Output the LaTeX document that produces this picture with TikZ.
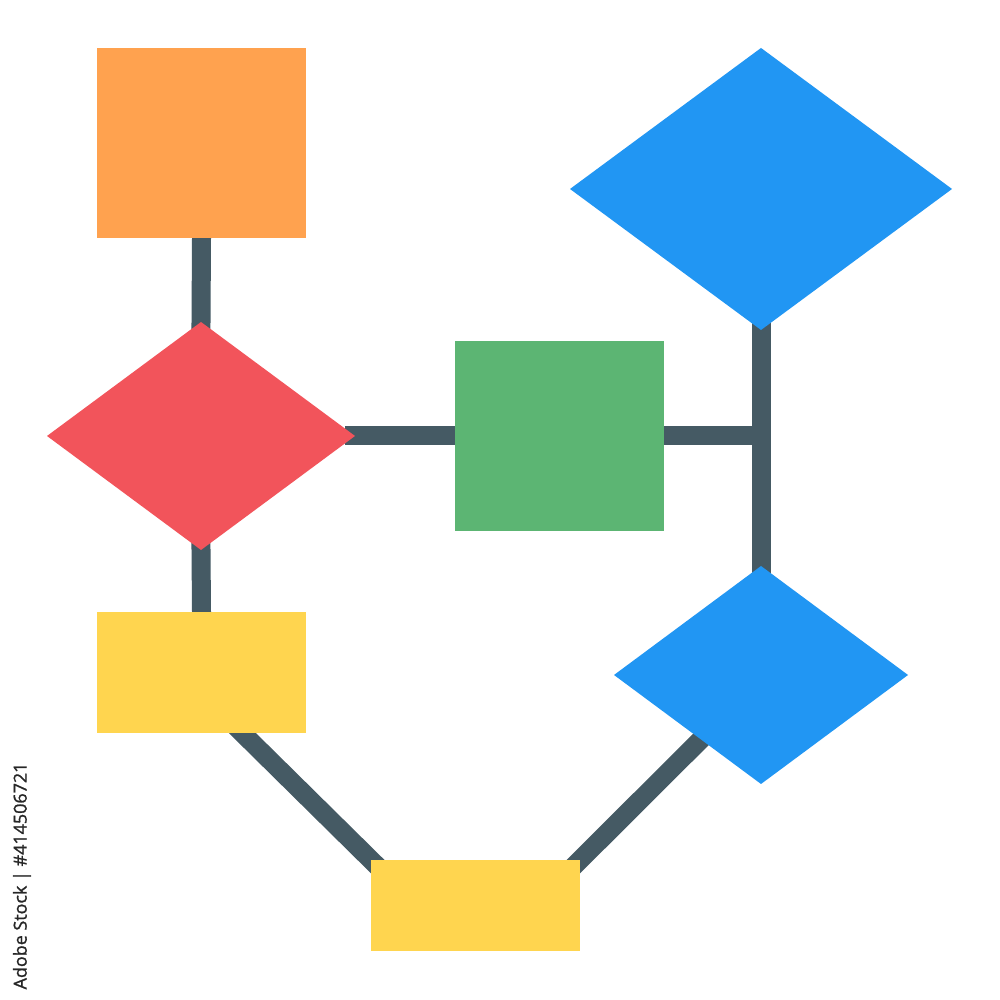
\documentclass[tikz,border=0pt]{standalone}
\usepackage{fontspec}
\newfontfamily\stockfont[FakeBold=1.2]{Open Sans}
\usetikzlibrary{shapes.geometric,backgrounds}

\definecolor{boxorange}{HTML}{FFA24F}
\definecolor{boxred}{HTML}{F2545B}
\definecolor{boxgreen}{HTML}{5CB573}
\definecolor{boxblue}{HTML}{2196F3}
\definecolor{boxyellow}{HTML}{FFD54F}
\definecolor{linkgray}{HTML}{455A64}

\begin{document}
\begin{tikzpicture}[
        block/.style={rectangle,fill=#1,inner sep=0pt,outer sep=0pt},
        choice/.style={diamond,fill=#1,inner sep=0pt,outer sep=0pt},
        link/.style={draw=linkgray,line width=0.19cm,shorten <=-0.1cm,shorten >=-0.1cm}
    ]
        \useasboundingbox (0,0) rectangle (10,10);
        % boxes
        \node[block=boxorange,minimum width=2.09cm,minimum height=1.90cm] (start) at (2.015,8.57) {};
        \node[choice=boxred,minimum width=3.08cm,minimum height=2.28cm] (check) at (2.01,5.64) {};
        \node[block=boxgreen,minimum width=2.09cm,minimum height=1.90cm] (task) at (5.595,5.64) {};
        \node[choice=boxblue,minimum width=3.82cm,minimum height=2.82cm] (upper) at (7.61,8.11) {};
        \node[choice=boxblue,minimum width=2.94cm,minimum height=2.18cm] (lower) at (7.61,3.25) {};
        \node[block=boxyellow,minimum width=2.09cm,minimum height=1.21cm] (left) at (2.015,3.275) {};
        \node[block=boxyellow,minimum width=2.09cm,minimum height=0.91cm] (end) at (4.755,0.945) {};
        \coordinate (joint) at (7.61,5.64);
        % links
        \begin{scope}[on background layer]
            \fill[white] (0,0) rectangle (10,10);
            \draw[link] (start.south) -- (check.north);
            \draw[link] (check.east) -- (task.west);
            \draw[link,shorten >=0pt] (task.east) -- (joint);
            \draw[link] (upper.south) -- (lower.north);
            \draw[link] (check.south) -- (left.north);
            \draw[link,shorten <=-0.2cm,shorten >=-0.2cm] (left.-56) -- (end.north west);
            \draw[link,shorten <=-0.2cm,shorten >=-0.2cm] (lower.227) -- (end.north east);
        \end{scope}
        \node[rotate=90,text=black!85,font=\stockfont\fontsize{5.1}{6}\selectfont] (stock) at (0.22,1.24) {Adobe Stock | \#414506721};
    \end{tikzpicture}
\end{document}
